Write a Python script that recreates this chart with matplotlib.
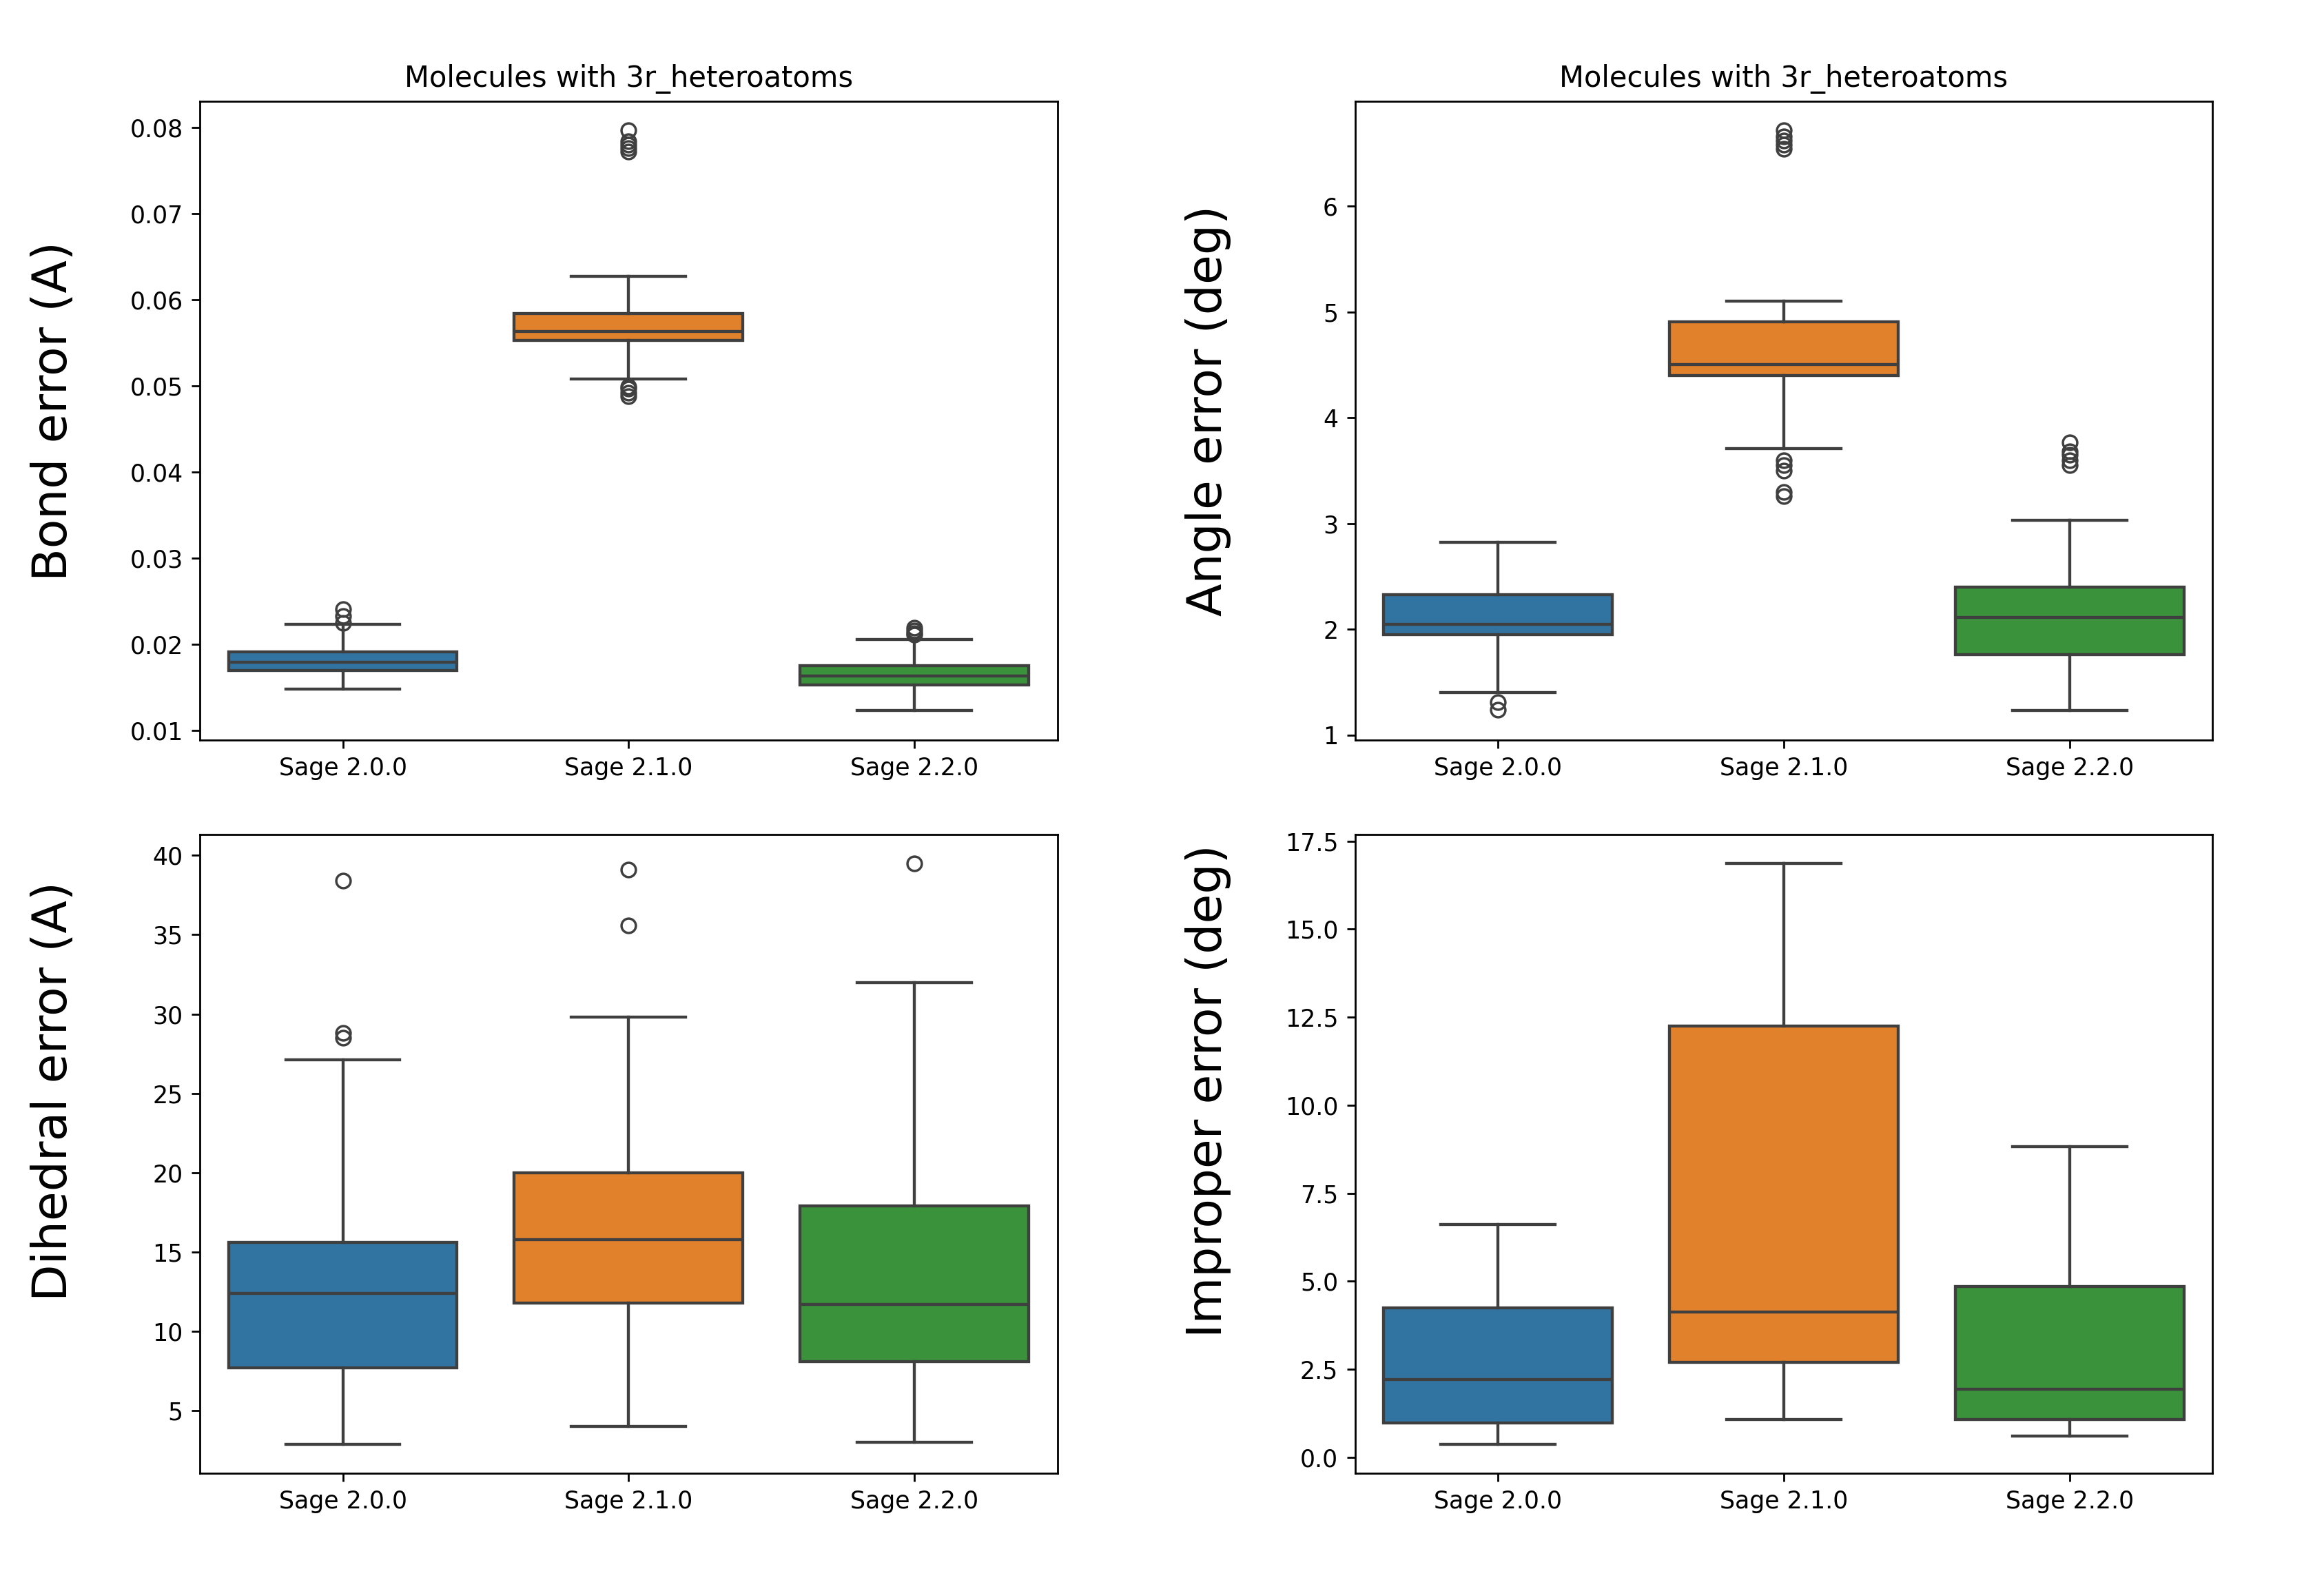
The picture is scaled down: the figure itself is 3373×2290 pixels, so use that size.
import matplotlib
matplotlib.use("Agg")
import matplotlib.pyplot as plt

versions = ["Sage 2.0.0", "Sage 2.1.0", "Sage 2.2.0"]
colors = ["#3274a1", "#e1812c", "#3a923a"]
line_color = "#3f3f3f"
title = "Molecules with 3r_heteroatoms"

# box stats: whislo, q1, median, q3, whishi, fliers
bond_lo = [0.0148, 0.0508, 0.0123]
bond_q1 = [0.0170, 0.0553, 0.0153]
bond_med = [0.0179, 0.0563, 0.0163]
bond_q3 = [0.0191, 0.0584, 0.0175]
bond_hi = [0.0223, 0.0627, 0.0206]
bond_fliers = [[0.0225, 0.0233, 0.0241],
               [0.0488, 0.0492, 0.0497, 0.0499, 0.0772, 0.0776, 0.0780, 0.0784, 0.0797],
               [0.0211, 0.0213, 0.0216, 0.0219]]

angle_lo = [1.40, 3.71, 1.23]
angle_q1 = [1.95, 4.40, 1.76]
angle_med = [2.05, 4.50, 2.11]
angle_q3 = [2.33, 4.91, 2.40]
angle_hi = [2.82, 5.10, 3.03]
angle_fliers = [[1.24, 1.31],
                [3.26, 3.30, 3.50, 3.55, 3.60, 6.54, 6.58, 6.62, 6.66, 6.72],
                [3.55, 3.60, 3.65, 3.68, 3.77]]

dihedral_lo = [2.9, 4.0, 3.0]
dihedral_q1 = [7.7, 11.8, 8.1]
dihedral_med = [12.4, 15.8, 11.7]
dihedral_q3 = [15.6, 20.0, 17.9]
dihedral_hi = [27.1, 29.8, 32.0]
dihedral_fliers = [[28.5, 28.8, 38.4], [35.6, 39.1], [39.5]]

improper_lo = [0.38, 1.07, 0.60]
improper_q1 = [0.98, 2.70, 1.07]
improper_med = [2.22, 4.13, 1.93]
improper_q3 = [4.25, 12.25, 4.85]
improper_hi = [6.62, 16.87, 8.82]
improper_fliers = [[], [], []]


def make_stats(lo, q1, med, q3, hi, fliers):
    stats = []
    for i in range(len(versions)):
        stats.append({"whislo": lo[i], "q1": q1[i], "med": med[i], "q3": q3[i],
                      "whishi": hi[i], "fliers": fliers[i], "label": versions[i]})
    return stats


def draw(ax, stats, ylabel, show_title, label_y):
    lp = dict(color=line_color, linewidth=1.25)
    bp = ax.bxp(stats, positions=range(len(stats)), widths=0.8, patch_artist=True,
                boxprops=dict(edgecolor=line_color, linewidth=1.25),
                whiskerprops=lp, capprops=lp, medianprops=lp,
                flierprops=dict(marker="o", markerfacecolor="none",
                                markeredgecolor=line_color, markersize=6, linewidth=0))
    for patch, c in zip(bp["boxes"], colors):
        patch.set_facecolor(c)
    for cap in bp["caps"]:
        x = cap.get_xdata()
        mid = (x[0] + x[1]) / 2
        cap.set_xdata([mid - 0.2, mid + 0.2])
    ax.set_xlim(-0.5, 2.5)
    ax.set_xticks(range(len(versions)))
    ax.set_xticklabels(versions, fontsize=10)
    ax.tick_params(axis="y", labelsize=10)
    ax.set_ylabel(ylabel, fontsize=20)
    ax.yaxis.set_label_coords(-0.144, label_y)
    if show_title:
        ax.set_title(title, fontsize=12)


fig, axes = plt.subplots(2, 2, figsize=(3373 / 250, 2290 / 250), dpi=250)
plt.subplots_adjust(left=0.086, right=0.952, top=0.936, bottom=0.0665,
                    wspace=0.347, hspace=0.148)

draw(axes[0, 0], make_stats(bond_lo, bond_q1, bond_med, bond_q3, bond_hi, bond_fliers),
     "Bond error (A)", True, 0.515)
draw(axes[0, 1], make_stats(angle_lo, angle_q1, angle_med, angle_q3, angle_hi, angle_fliers),
     "Angle error (deg)", True, 0.515)
draw(axes[1, 0], make_stats(dihedral_lo, dihedral_q1, dihedral_med, dihedral_q3, dihedral_hi,
                            dihedral_fliers), "Dihedral error (A)", False, 0.598)
draw(axes[1, 1], make_stats(improper_lo, improper_q1, improper_med, improper_q3, improper_hi,
                            improper_fliers), "Improper error (deg)", False, 0.598)

axes[0, 0].set_yticks([0.01, 0.02, 0.03, 0.04, 0.05, 0.06, 0.07, 0.08])
axes[0, 1].set_yticks([1, 2, 3, 4, 5, 6])
axes[1, 0].set_yticks([5, 10, 15, 20, 25, 30, 35, 40])
axes[1, 1].set_yticks([0.0, 2.5, 5.0, 7.5, 10.0, 12.5, 15.0, 17.5])

fig.savefig("out.png", dpi=250)
